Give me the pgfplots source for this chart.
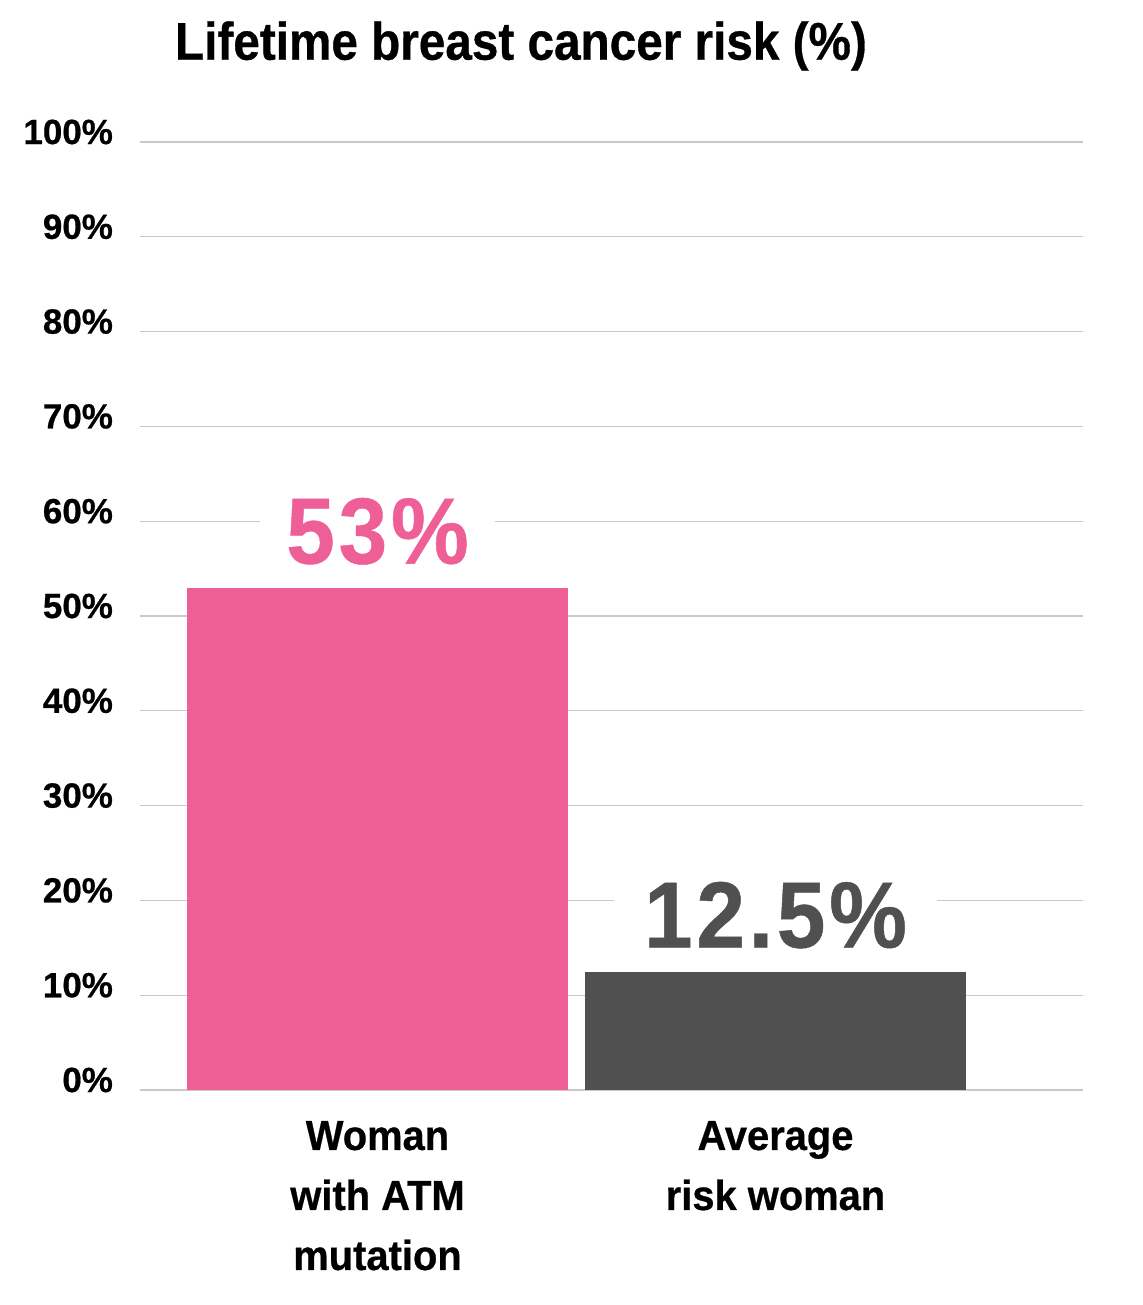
\documentclass[border=0pt]{standalone}
\usepackage{fontspec}
\setmainfont{Liberation Sans}[FakeStretch=0.86]
\newfontfamily\titlefont{Liberation Sans}[FakeStretch=0.9, FakeBold=0.6]
\newfontfamily\tickfont{Liberation Sans}[FakeStretch=1.0, FakeBold=0.6]
\newfontfamily\labfont{Liberation Sans}[FakeStretch=0.95, FakeBold=0.6]
\newfontfamily\barfont{Liberation Sans}[FakeStretch=0.93, LetterSpace=4, FakeBold=0.5]
\usepackage{pgfplots}
\pgfplotsset{compat=1.18}
\definecolor{pinkbar}{HTML}{EF5F97}
\definecolor{graybar}{HTML}{505050}
\definecolor{gridc}{HTML}{C8C8C8}
\begin{document}
\begin{tikzpicture}[x=1pt,y=1pt]
\begin{axis}[
  at={(0,0)}, anchor=south west, scale only axis,
  width=471.5pt, height=474pt,
  xmin=-0.5967, xmax=1.7726, ymin=0, ymax=100,
  axis line style={draw=none},
  major tick length=0pt,
  ytick={0,10,20,30,40,50,60,70,80,90,100},
  yticklabels={0\%,10\%,20\%,30\%,40\%,50\%,60\%,70\%,80\%,90\%,100\%},
  yticklabel style={font=\tickfont\bfseries\fontsize{17.5}{17.5}\selectfont, anchor=east, xshift=-10pt, yshift=5pt},
  xtick={0,1},
  xticklabels={{Woman\\with ATM\\mutation},{Average\\risk woman}},
  xticklabel style={font=\labfont\bfseries\fontsize{21}{30}\selectfont, align=center, anchor=north, yshift=-12pt},
  ymajorgrids, grid style={gridc, line width=0.6pt},
  clip=false,
]
\addplot[ybar, bar shift=0pt, bar width=190.5pt, fill=pinkbar, draw=none] coordinates {(0,53)};
\addplot[ybar, bar shift=0pt, bar width=190.5pt, fill=graybar, draw=none] coordinates {(1,12.5)};
\node[anchor=base, yshift=12pt, fill=white, inner xsep=13pt, inner ysep=1pt, text=pinkbar, font=\barfont\bfseries\fontsize{47}{47}\selectfont] at (axis cs:0,53) {53\%};
\node[anchor=base, yshift=12pt, fill=white, inner xsep=15pt, inner ysep=1pt, text=graybar, font=\barfont\bfseries\fontsize{47}{47}\selectfont] at (axis cs:1,12.5) {12.5\%};
\end{axis}
\node[font=\titlefont\bfseries\fontsize{26.5}{26.5}\selectfont] at (190.5,522) {Lifetime breast cancer risk (\%)};
\pgfresetboundingbox
\path (-70,-107.5) rectangle (501.5,545);
\end{tikzpicture}
\end{document}
